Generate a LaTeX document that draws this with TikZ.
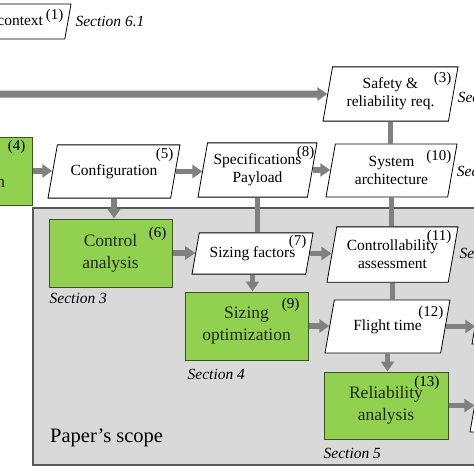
\documentclass[tikz,border=0pt]{standalone}
\usepackage{fontspec}
\setmainfont{Liberation Serif}
\usetikzlibrary{arrows.meta, positioning, shapes.geometric, calc}
\definecolor{flowGray}{HTML}{808080}
\definecolor{scopeGray}{HTML}{D9D9D9}
\definecolor{scopeLine}{HTML}{595959}
\definecolor{stepGreen}{HTML}{92D050}
\definecolor{stepDark}{HTML}{3B5323}
\definecolor{stepText}{HTML}{1E2A12}
\tikzset{
  arrowF/.style={-{Triangle[length=10pt,width=13pt]}, draw=flowGray, fill=flowGray, line width=5.5pt},
  lineF/.style={draw=flowGray, line width=5.5pt},
  boxP/.style={trapezium, trapezium left angle=80, trapezium right angle=100,
               trapezium stretches body, draw=black, fill=white, line width=0.8pt,
               align=center, font=\fontsize{15.5}{18}\selectfont, inner xsep=2pt},
  boxG/.style={rectangle, draw=stepDark, fill=stepGreen, line width=1pt, align=center,
               text=stepText, font=\fontsize{17.5}{22}\selectfont,
               minimum width=123pt, minimum height=68pt},
  numL/.style={font=\fontsize{15}{15}\selectfont, inner sep=0pt, anchor=north east},
  secL/.style={font=\fontsize{15.5}{18}\selectfont\itshape, inner sep=0pt},
}

\begin{document}
\begin{tikzpicture}[x=1pt, y=-1pt]
  \useasboundingbox (0,0) rectangle (474,474);
  \clip (0,0) rectangle (474,474);

  % scope of the paper
  \draw[scopeLine, fill=scopeGray, line width=1.2pt] (33,208) rectangle (490,465);
  \node[anchor=west, inner sep=0pt, font=\fontsize{20.5}{24}\selectfont] (scp) at (50,438) {Paper’s scope};

  % white steps
  \node[boxP, minimum width=140, inner ysep=13, text width=84, align=right] (ctx) at (1,21.5) {context};
  \node[boxP, minimum width=135, inner ysep=11] (saf) at (390.5,94) {Safety \&\\reliability req.};
  \node[boxP, minimum width=132, inner ysep=19.5] (cfg) at (114,171.5) {Configuration};
  \node[boxP, minimum width=119, inner ysep=11] (spec) at (257.5,170) {Specifications\\Payload};
  \node[boxP, minimum width=131, inner ysep=12.2] (sys) at (391.5,170.5) {System\\architecture};
  \node[boxP, minimum width=121, inner ysep=13.5] (szf) at (252.5,253.5) {Sizing factors};
  \node[boxP, minimum width=131, inner ysep=13.2] (ctl) at (392.5,254.5) {Controllability\\assessment};
  \node[boxP, minimum width=125, inner ysep=19.5] (flt) at (387.5,326.5) {Flight time};
  \node[boxP, minimum width=120, inner ysep=21] (r1) at (532,323) {};
  \node[boxP, minimum width=120, inner ysep=27.5] (r2) at (530,404.5) {};

  % green steps
  \node[boxG, minimum width=122] (mis) at (-29,171) {Mission\\definition};
  \node[boxG] (ctr) at (110.5,253) {Control\\analysis};
  \node[boxG] (sopt) at (246.5,326) {Sizing\\optimization};
  \node[boxG, minimum width=124, minimum height=67] (rel) at (386,405.5) {Reliability\\analysis};

  % step numbers
  \node[numL] at ($(ctx.top right corner)+(-8,5)$) {(1)};
  \node[numL] at ($(saf.top right corner)+(-7,5)$) {(3)};
  \node[numL] at ($(mis.north east)+(-7,3)$) {(4)};
  \node[numL] at ($(cfg.top right corner)+(-7,3)$) {(5)};
  \node[numL] at ($(ctr.north east)+(-6,8)$) {(6)};
  \node[numL] at ($(szf.top right corner)+(-7,2)$) {(7)};
  \node[numL] at ($(spec.top right corner)+(-3,3)$) {(8)};
  \node[numL] at ($(sopt.north east)+(-9,6)$) {(9)};
  \node[numL] at ($(sys.top right corner)+(-6,6)$) {(10)};
  \node[numL] at ($(ctl.top right corner)+(-7,3)$) {(11)};
  \node[numL] at ($(flt.top right corner)+(-7,6)$) {(12)};
  \node[numL] at ($(rel.north east)+(-9,4)$) {(13)};

  % sections
  \node[secL, anchor=west] at ($(ctx.east)+(7,0)$) {Section 6.1};
  \node[secL, anchor=west] at ($(saf.east)+(4,3)$) {Section};
  \node[secL, anchor=west] at ($(sys.east)+(4,1)$) {Section};
  \node[secL, anchor=west] at ($(ctl.east)+(6,-1)$) {Section};
  \node[secL, anchor=north west] at ($(ctr.south west)+(1,6)$) {Section 3};
  \node[secL, anchor=north west] at ($(sopt.south west)+(3,9)$) {Section 4};
  \node[secL, anchor=north west] at ($(rel.south west)+(0,9)$) {Section 5};

  % flow
  \coordinate (src) at (-5,94);
  \draw[arrowF, line width=7pt] (src) -- (saf.west);
  \draw[lineF] (saf.south) -- (saf.south |- sys.north);
  \draw[arrowF] (mis.east) -- (mis.east -| cfg.west);
  \draw[arrowF] (cfg.east) -- (cfg.east -| spec.west);
  \draw[arrowF] (spec.east) -- (spec.east -| sys.west);
  \draw[arrowF] (cfg.south) -- (cfg.south |- ctr.north);
  \draw[lineF] (spec.south) -- (spec.south |- szf.north);
  \draw[lineF] (sys.south) -- (sys.south |- ctl.north);
  \draw[arrowF] (ctr.east) -- (ctr.east -| szf.west);
  \draw[arrowF] (szf.east) -- (szf.east -| ctl.west);
  \draw[arrowF] (szf.south) -- (szf.south |- sopt.north);
  \draw[lineF] (ctl.south) -- (ctl.south |- flt.north);
  \draw[arrowF] (sopt.east) -- (sopt.east -| flt.west);
  \draw[arrowF] (flt.east) -- (flt.east -| r1.west);
  \draw[arrowF] (flt.south) -- (flt.south |- rel.north);
  \draw[arrowF] (rel.east) -- (rel.east -| r2.west);
\end{tikzpicture}
\end{document}
